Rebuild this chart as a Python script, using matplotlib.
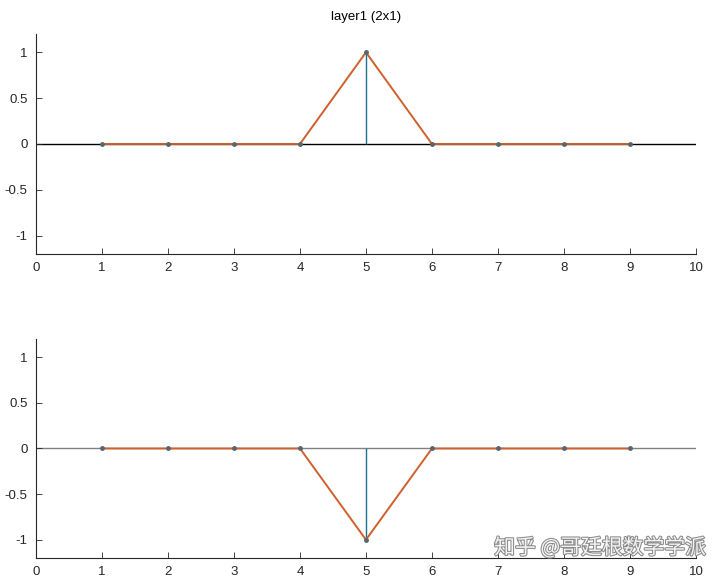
import numpy as np
import matplotlib.pyplot as plt
import matplotlib.patheffects as pe

# layer1 (2x1) stem plots
n = np.arange(1, 10)
top_vals = [0, 0, 0, 0, 1, 0, 0, 0, 0]
bot_vals = [0, 0, 0, 0, -1, 0, 0, 0, 0]
xticks = [0, 1, 2, 3, 4, 5, 6, 7, 8, 9, 10]
yticks = [-1, -0.5, 0, 0.5, 1]
ytick_labels = ['-1', '-0.5', '0', '0.5', '1']

plt.rcParams['font.family'] = ['Liberation Sans', 'DejaVu Sans']

fig = plt.figure(figsize=(7.26, 5.78), dpi=100)
ax1 = fig.add_axes([0.0496, 0.5606, 0.909, 0.3806])
ax2 = fig.add_axes([0.0496, 0.0346, 0.909, 0.379])

stem_col = '#1a6f90'
line_col = '#cf5f2c'

for ax, vals, base_col in [(ax1, top_vals, 'black'), (ax2, bot_vals, '#808080')]:
    ax.axhline(0, color=base_col, lw=1.0, zorder=1)
    ax.vlines(n, 0, vals, color=stem_col, lw=1.0, zorder=2)
    ax.plot(n, vals, color=line_col, lw=1.4, zorder=3)
    ax.plot(n, vals, 'o', color='#556672', ms=2.5, zorder=4)
    ax.set_xlim(0, 10)
    ax.set_ylim(-1.2, 1.2)
    ax.set_xticks(xticks)
    ax.set_yticks(yticks)
    ax.set_yticklabels(ytick_labels)
    for s in ['top', 'right']:
        ax.spines[s].set_visible(False)
    for s in ['left', 'bottom']:
        ax.spines[s].set_linewidth(0.8)
        ax.spines[s].set_color('#262626')
    ax.tick_params(direction='in', length=4, width=0.6, labelsize=9.5,
                   colors='#262626', pad=6)

ax1.set_title('layer1 (2x1)', fontsize=9.5, pad=10)

fig.text(0.973, 0.052, '知乎 @哥廷根数学学派', ha='right', va='center',
         fontsize=15, color='#f4f4f4',
         family=['Noto Sans CJK SC', 'DejaVu Sans'],
         path_effects=[pe.withStroke(linewidth=1.5, foreground='#8a8a8a')])

fig.savefig('out.png', dpi=100)
